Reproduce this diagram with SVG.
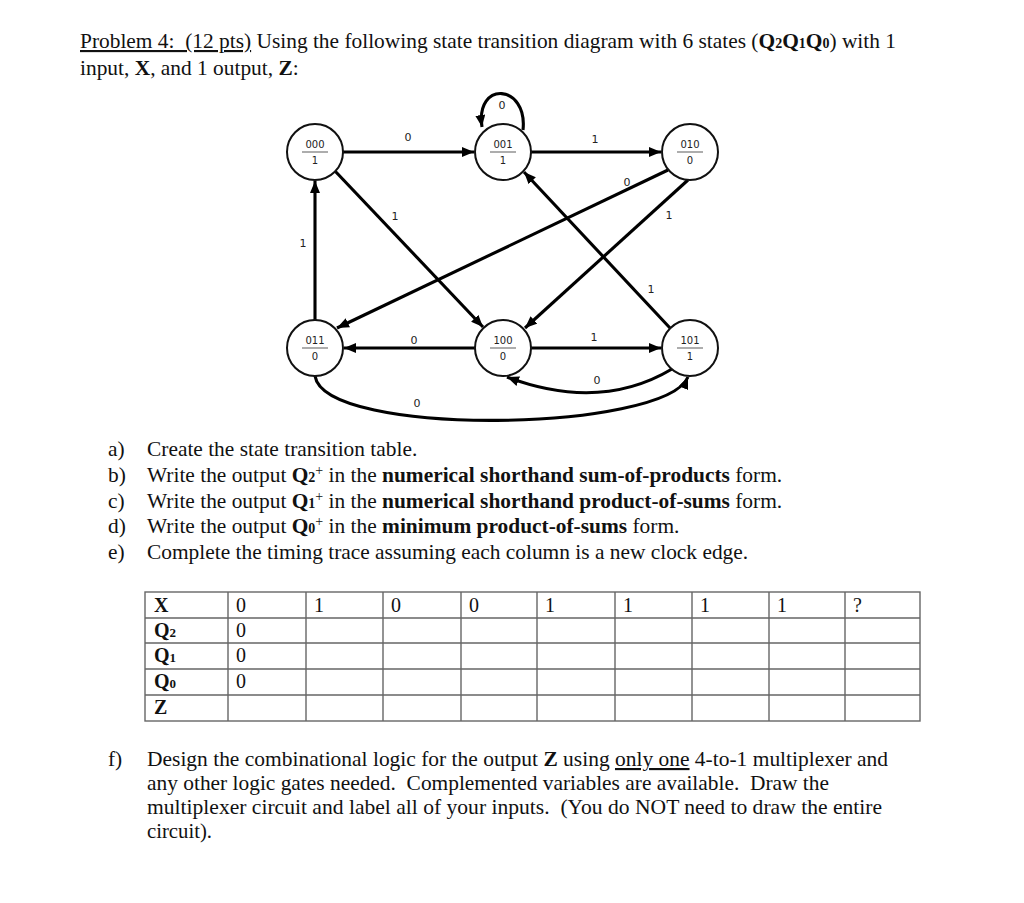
<svg xmlns="http://www.w3.org/2000/svg" width="1024" height="903" viewBox="0 0 1024 903">
<style>
.t{font-family:"Liberation Serif","Times New Roman",serif;font-size:21.4px;fill:#111}
.b{font-weight:bold}
.st{font-family:"DejaVu Sans",Verdana,sans-serif;font-size:10px;fill:#222;text-anchor:middle}
.el{font-family:"DejaVu Sans",Verdana,sans-serif;font-size:11px;fill:#222;text-anchor:middle}
.circ{fill:#fff;stroke:#111;stroke-width:2}
.div{stroke:#777;stroke-width:1.2}
.edge{fill:none;stroke:#000;stroke-width:3.1;marker-end:url(#ah)}
.grid{stroke:#666;stroke-width:1.4;fill:none}
.tc{font-family:"Liberation Serif","Times New Roman",serif;font-size:20px;fill:#111}
</style>
<defs>
<marker id="ah" markerUnits="userSpaceOnUse" markerWidth="13" markerHeight="11" refX="12" refY="5" orient="auto">
<path d="M0,0 L12,5 L0,10 z" fill="#000"/>
</marker>
</defs>
<rect width="1024" height="903" fill="#fff"/>

<!-- header -->
<text class="t" x="80" y="48" xml:space="preserve"><tspan text-decoration="underline">Problem 4:  (12 pts)</tspan> Using the following state transition diagram with 6 states (<tspan class="b">Q</tspan><tspan class="b" font-size="14">2</tspan><tspan class="b">Q</tspan><tspan class="b" font-size="14">1</tspan><tspan class="b">Q</tspan><tspan class="b" font-size="14">0</tspan>) with 1</text>
<text class="t" x="80" y="75" xml:space="preserve">input, <tspan class="b">X</tspan>, and 1 output, <tspan class="b">Z</tspan>:</text>

<!-- connectors -->
<g id="connectors">
<path class="edge" d="M343,152 L474,152"/>
<path class="edge" d="M531,152 L661,152"/>
<path class="edge" d="M315,320 L315,181"/>
<path class="edge" d="M335,171 L483,327"/>
<path class="edge" d="M668,170 L337,328"/>
<path class="edge" d="M688,180 L525,328"/>
<path class="edge" d="M670,328 L524,172"/>
<path class="edge" d="M475,348 L344,348"/>
<path class="edge" d="M531,348 L661,348"/>
<path class="edge" d="M672,369 Q600,412 507,377"/>
<path class="edge" d="M315,376 C325,438 665,432 688,377"/>
<path class="edge" d="M523,130 C528,84 475,80 482,127"/>
<text class="el" x="408" y="141">0</text>
<text class="el" x="595" y="143">1</text>
<text class="el" x="502" y="109">0</text>
<text class="el" x="303" y="247">1</text>
<text class="el" x="395" y="220">1</text>
<text class="el" x="627" y="186">0</text>
<text class="el" x="669" y="219">1</text>
<text class="el" x="651" y="293">1</text>
<text class="el" x="414" y="344">0</text>
<text class="el" x="594" y="341">1</text>
<text class="el" x="597" y="384">0</text>
<text class="el" x="417" y="407">0</text>
</g>

<!-- nodes -->
<g id="s000"><circle class="circ" cx="315" cy="152" r="28"/><text class="st" x="315" y="148">000</text><line class="div" x1="302" y1="152" x2="328" y2="152"/><text class="st" x="315" y="164">1</text></g>
<g id="s001"><circle class="circ" cx="503" cy="152" r="28"/><text class="st" x="503" y="148">001</text><line class="div" x1="490" y1="152" x2="516" y2="152"/><text class="st" x="503" y="164">1</text></g>
<g id="s010"><circle class="circ" cx="690" cy="152" r="28"/><text class="st" x="690" y="148">010</text><line class="div" x1="677" y1="152" x2="703" y2="152"/><text class="st" x="690" y="164">0</text></g>
<g id="s011"><circle class="circ" cx="315" cy="348" r="28"/><text class="st" x="315" y="344">011</text><line class="div" x1="302" y1="348" x2="328" y2="348"/><text class="st" x="315" y="360">0</text></g>
<g id="s100"><circle class="circ" cx="503" cy="348" r="28"/><text class="st" x="503" y="344">100</text><line class="div" x1="490" y1="348" x2="516" y2="348"/><text class="st" x="503" y="360">0</text></g>
<g id="s101"><circle class="circ" cx="690" cy="348" r="28"/><text class="st" x="690" y="344">101</text><line class="div" x1="677" y1="348" x2="703" y2="348"/><text class="st" x="690" y="360">1</text></g>

<!-- questions -->
<g id="questions">
<text class="t" x="108" y="456">a)</text>
<text class="t" x="147" y="456">Create the state transition table.</text>
<text class="t" x="108" y="482">b)</text>
<text class="t" x="147" y="482" xml:space="preserve">Write the output <tspan class="b">Q</tspan><tspan class="b" font-size="14">2</tspan><tspan font-size="14" dy="-7">+</tspan><tspan dy="7"> in the </tspan><tspan class="b">numerical shorthand sum-of-products</tspan> form.</text>
<text class="t" x="108" y="508">c)</text>
<text class="t" x="147" y="508" xml:space="preserve">Write the output <tspan class="b">Q</tspan><tspan class="b" font-size="14">1</tspan><tspan font-size="14" dy="-7">+</tspan><tspan dy="7"> in the </tspan><tspan class="b">numerical shorthand product-of-sums</tspan> form.</text>
<text class="t" x="108" y="533">d)</text>
<text class="t" x="147" y="533" xml:space="preserve">Write the output <tspan class="b">Q</tspan><tspan class="b" font-size="14">0</tspan><tspan font-size="14" dy="-7">+</tspan><tspan dy="7"> in the </tspan><tspan class="b">minimum product-of-sums</tspan> form.</text>
<text class="t" x="108" y="559">e)</text>
<text class="t" x="147" y="559">Complete the timing trace assuming each column is a new clock edge.</text>
</g>

<!-- table -->
<g id="table">
<rect class="grid" x="145" y="592" width="775" height="129"/>
<path class="grid" d="M145,618H920M145,643H920M145,669H920M145,695H920M228,592V721M306,592V721M383,592V721M461,592V721M537,592V721M615,592V721M692,592V721M769,592V721M845,592V721"/>
<text class="tc b" x="154" y="612">X</text>
<text class="tc" x="154" y="637"><tspan class="b">Q</tspan><tspan class="b" font-size="13">2</tspan></text>
<text class="tc" x="154" y="662"><tspan class="b">Q</tspan><tspan class="b" font-size="13">1</tspan></text>
<text class="tc" x="154" y="688"><tspan class="b">Q</tspan><tspan class="b" font-size="13">0</tspan></text>
<text class="tc b" x="154" y="714">Z</text>
<text class="tc" x="236" y="612">0</text>
<text class="tc" x="314" y="612">1</text>
<text class="tc" x="391" y="612">0</text>
<text class="tc" x="469" y="612">0</text>
<text class="tc" x="545" y="612">1</text>
<text class="tc" x="623" y="612">1</text>
<text class="tc" x="700" y="612">1</text>
<text class="tc" x="777" y="612">1</text>
<text class="tc" x="853" y="612">?</text>
<text class="tc" x="236" y="637">0</text>
<text class="tc" x="236" y="662">0</text>
<text class="tc" x="236" y="688">0</text>
</g>

<!-- part f -->
<g id="partf">
<text class="t" x="108" y="766">f)</text>
<text class="t" x="147" y="766" textLength="741" lengthAdjust="spacingAndGlyphs" xml:space="preserve">Design the combinational logic for the output <tspan class="b">Z</tspan> using <tspan text-decoration="underline">only one</tspan> 4-to-1 multiplexer and</text>
<text class="t" x="147" y="790" textLength="682" lengthAdjust="spacingAndGlyphs" xml:space="preserve">any other logic gates needed.  Complemented variables are available.  Draw the</text>
<text class="t" x="147" y="814" textLength="735" lengthAdjust="spacingAndGlyphs" xml:space="preserve">multiplexer circuit and label all of your inputs.  (You do NOT need to draw the entire</text>
<text class="t" x="147" y="838" textLength="65" lengthAdjust="spacingAndGlyphs">circuit).</text>
</g>
</svg>
